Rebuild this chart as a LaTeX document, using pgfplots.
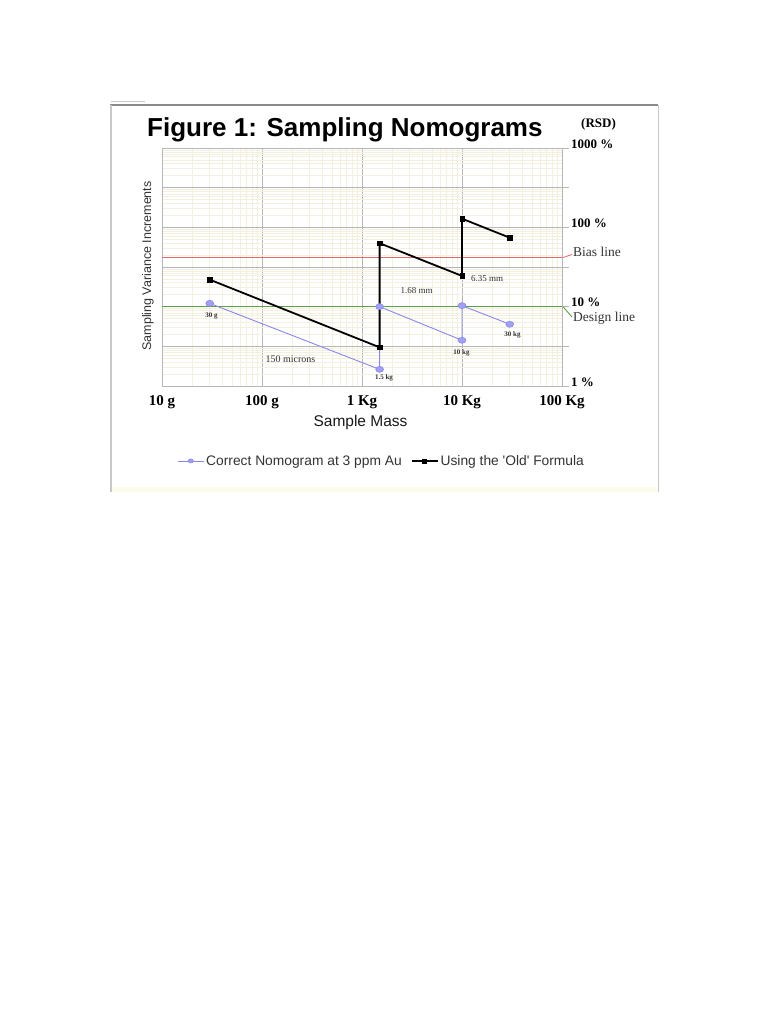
\documentclass[border=0pt]{standalone}
\usepackage{fontspec}
\setmainfont{Liberation Serif}
\newfontfamily\arial{Liberation Sans}
\usepackage{pgfplots}
\pgfplotsset{compat=1.18}

\definecolor{majgrid}{HTML}{B6B6B6}
\definecolor{mingrid}{HTML}{F3F0DF}
\definecolor{nomoblue}{HTML}{8888E8}
\definecolor{nomofill}{HTML}{A0A0F4}
\definecolor{biasred}{HTML}{E46A6A}
\definecolor{designgreen}{HTML}{5E9F45}
\definecolor{framegray}{HTML}{8A8A8A}
\definecolor{lightframe}{HTML}{C8C8C8}
\definecolor{cream}{HTML}{FDFBEC}
\definecolor{txtgray}{HTML}{333333}

\begin{document}
\begin{tikzpicture}
\path[use as bounding box, fill=white] (0,0) rectangle (768pt,1024pt);

% frame of the pasted figure
\begin{scope}[x=1pt, y=-1pt, shift={(0pt,1024pt)}]
  \fill[cream] (112,487) rectangle (657,492);
  \draw[framegray, line width=1.5pt] (110,105) -- (658,105);
  \draw[lightframe, line width=1pt] (111,102) -- (145,102);
  \draw[lightframe, line width=1.2pt] (111,105) -- (111,492);
  \draw[lightframe, line width=1pt] (658,105) -- (658,492);
\end{scope}

\begin{axis}[
  at={(162pt,638pt)}, anchor=south west,
  scale only axis, width=400pt, height=238pt,
  xmode=log, ymode=log,
  xmin=10, xmax=100000, ymin=1, ymax=1000,
  axis line style={draw=majgrid, line width=0.8pt},
  xtick={10,100,1000,10000,100000},
  xticklabels={10 g,100 g,1 Kg,10 Kg,100 Kg},
  minor xtick={20,30,40,50,60,70,80,90,
    200,300,400,500,600,700,800,900,
    2000,3000,4000,5000,6000,7000,8000,9000,
    20000,30000,40000,50000,60000,70000,80000,90000},
  ytick={1,3.1623,10,31.623,100,316.23,1000},
  yticklabels={1 \%,,10 \%,,100 \%,,1000 \%},
  minor ytick={1.4142,1.7321,2,2.2361,2.4495,2.6458,2.8284,3,
    4.4721,5.4772,6.3246,7.0711,7.7460,8.3666,8.9443,9.4868,
    14.142,17.321,20,22.361,24.495,26.458,28.284,30,
    44.721,54.772,63.246,70.711,77.460,83.666,89.443,94.868,
    141.42,173.21,200,223.61,244.95,264.58,282.84,300,
    447.21,547.72,632.46,707.11,774.60,836.66,894.43,948.68},
  grid=both,
  major grid style={draw=majgrid, line width=0.9pt},
  minor grid style={draw=mingrid, line width=0.6pt},
  xtick pos=bottom, ytick pos=right,
  tick align=outside,
  major tick length=7pt, minor tick length=0pt,
  tick style={draw=majgrid, line width=0.9pt},
  xtick style={draw=none},
  xticklabel style={font=\fontsize{15}{15}\selectfont\bfseries, anchor=north, inner sep=0pt, yshift=-2pt},
  yticklabel style={font=\fontsize{13}{13}\selectfont\bfseries, anchor=west, inner sep=0pt, yshift=4pt, xshift=2pt},
  legend style={draw=none, fill=none, at={(0.549,-0.315)}, anchor=center,
    legend columns=2, font=\arial\fontsize{13.8}{14}\selectfont, text=txtgray,
    /tikz/every even column/.append style={column sep=7pt}},
  legend image code/.code={\draw[mark repeat=2, mark phase=2, #1]
    plot coordinates {(0pt,0pt) (13pt,0pt) (26pt,0pt)};},
  legend image post style={mark size=2pt},
]
\addplot[biasred, line width=0.8pt, forget plot] coordinates {(10,41.4) (100000,41.4)};
\addplot[designgreen, line width=1.6pt, forget plot] coordinates {(10,10) (100000,10)};
\addplot[nomoblue, line width=0.9pt, mark=*, mark size=3pt,
  mark options={fill=nomofill, draw=nomoblue, line width=0.6pt, xscale=1.3}]
  coordinates {(30,11) (1500,1.62) (1500,10) (10000,3.77) (10000,10.3) (30000,6.0)};
\addlegendentry{Correct Nomogram at 3 ppm Au}
\addplot[black, line width=1.8pt, mark=square*, mark size=2.3pt, mark options={line width=0.4pt}]
  coordinates {(30,21.9) (1500,3.07) (1500,63) (10000,24.4) (10000,128.5) (30000,74)};
\addlegendentry{Using the 'Old' Formula}
\end{axis}

\begin{scope}[x=1pt, y=-1pt, shift={(0pt,1024pt)}]
  \node[anchor=base west, inner sep=0pt, font=\arial\bfseries\fontsize{26}{26}\selectfont]
    at (147,137) {Figure 1: Sampling Nomograms};
  \node[rotate=90, inner sep=0pt, text=txtgray, font=\arial\fontsize{12.5}{13}\selectfont]
    at (148,266) {Sampling Variance Increments};
  \node[anchor=base, inner sep=0pt, text=black!90, font=\arial\fontsize{15.5}{16}\selectfont]
    at (360.5,427) {Sample Mass};
  \node[anchor=base, inner sep=0pt, font=\fontsize{13}{13}\selectfont\bfseries]
    at (598.5,128) {(RSD)};
  \node[anchor=base west, inner sep=0pt, text=txtgray, font=\fontsize{13.5}{14}\selectfont]
    at (573,256.5) {Bias line};
  \node[anchor=base west, inner sep=0pt, text=txtgray, font=\fontsize{13.5}{14}\selectfont]
    at (573,321.5) {Design line};
  \draw[biasred, line width=0.8pt] (562.5,257.7) -- (572,254.5);
  \draw[designgreen, line width=0.9pt] (563,306.7) -- (572,317);
  % point labels
  \begin{scope}[every node/.style={inner sep=0pt, text=black!80}]
    \node[font=\fontsize{7}{7}\selectfont\bfseries] at (211.5,316) {30 g};
    \node[font=\fontsize{7}{7}\selectfont\bfseries] at (384,378) {1.5 kg};
    \node[font=\fontsize{7}{7}\selectfont\bfseries] at (461.5,353) {10 kg};
    \node[font=\fontsize{7}{7}\selectfont\bfseries] at (512.5,335) {30 kg};
    \node[font=\fontsize{10}{10}\selectfont] at (290.5,359) {150 microns};
    \node[font=\fontsize{9}{9}\selectfont] at (416.5,290.7) {1.68 mm};
    \node[font=\fontsize{9}{9}\selectfont] at (487,278.3) {6.35 mm};
  \end{scope}
\end{scope}
\end{tikzpicture}
\end{document}
